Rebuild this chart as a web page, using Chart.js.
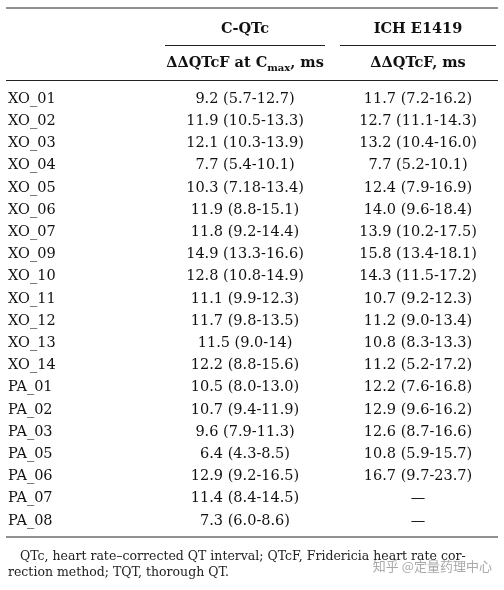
<!DOCTYPE html>
<html>
<head>
<meta charset="utf-8">
<script src="https://cdn.jsdelivr.net/npm/chart.js@4"></script>
<style>
  html, body { margin: 0; padding: 0; background: #fff; }
  #wrap { width: 504px; height: 590px; position: relative; }
</style>
</head>
<body>
<div id="wrap"><canvas id="tabla"></canvas></div>
<script>
const filas = ["XO_01","XO_02","XO_03","XO_04","XO_05","XO_06","XO_07","XO_09","XO_10","XO_11",
  "XO_12","XO_13","XO_14","PA_01","PA_02","PA_03","PA_05","PA_06","PA_07","PA_08"];
const cqtc = ["9.2 (5.7-12.7)","11.9 (10.5-13.3)","12.1 (10.3-13.9)","7.7 (5.4-10.1)","10.3 (7.18-13.4)",
  "11.9 (8.8-15.1)","11.8 (9.2-14.4)","14.9 (13.3-16.6)","12.8 (10.8-14.9)","11.1 (9.9-12.3)",
  "11.7 (9.8-13.5)","11.5 (9.0-14)","12.2 (8.8-15.6)","10.5 (8.0-13.0)","10.7 (9.4-11.9)",
  "9.6 (7.9-11.3)","6.4 (4.3-8.5)","12.9 (9.2-16.5)","11.4 (8.4-14.5)","7.3 (6.0-8.6)"];
const ich = ["11.7 (7.2-16.2)","12.7 (11.1-14.3)","13.2 (10.4-16.0)","7.7 (5.2-10.1)","12.4 (7.9-16.9)",
  "14.0 (9.6-18.4)","13.9 (10.2-17.5)","15.8 (13.4-18.1)","14.3 (11.5-17.2)","10.7 (9.2-12.3)",
  "11.2 (9.0-13.4)","10.8 (8.3-13.3)","11.2 (5.2-17.2)","12.2 (7.6-16.8)","12.9 (9.6-16.2)",
  "12.6 (8.7-16.6)","10.8 (5.9-15.7)","16.7 (9.7-23.7)","—","—"];
const columnas = [filas, cqtc, ich];
const colX = [0, 1, 2];

const fuente = "'DejaVu Serif', 'Liberation Serif', serif";

const textoTabla = {
  id: "textoTabla",
  afterDatasetsDraw(chart) {
    const ctx = chart.ctx;
    const area = chart.chartArea;
    ctx.save();
    ctx.fillStyle = "#111";
    ctx.textBaseline = "middle";
    ctx.font = "14.5px " + fuente;
    chart.data.datasets.forEach((ds, d) => {
      const meta = chart.getDatasetMeta(d);
      meta.data.forEach((pt, i) => {
        ctx.textAlign = d === 0 ? "left" : "center";
        ctx.fillText(ds.textos[i], d === 0 ? 8 : pt.x, pt.y);
      });
    });

    const xs = chart.scales.x;
    const c1 = xs.getPixelForValue(1), c2 = xs.getPixelForValue(2);
    ctx.font = "bold 14.5px " + fuente;
    ctx.textAlign = "center";
    ctx.fillText("C-QTc", c1, 29);
    ctx.fillText("ICH E1419", c2, 29);

    // segundo encabezado con subíndice
    const a = "ΔΔQTcF at C", s = "max", b = ", ms";
    const wa = ctx.measureText(a).width, wb = ctx.measureText(b).width;
    ctx.font = "bold 10px " + fuente;
    const ws = ctx.measureText(s).width;
    let x0 = c1 - (wa + ws + wb) / 2;
    ctx.textAlign = "left";
    ctx.font = "bold 14.5px " + fuente;
    ctx.fillText(a, x0, 63);
    ctx.font = "bold 10px " + fuente;
    ctx.fillText(s, x0 + wa, 68);
    ctx.font = "bold 14.5px " + fuente;
    ctx.fillText(b, x0 + wa + ws, 63);
    ctx.textAlign = "center";
    ctx.fillText("ΔΔQTcF, ms", c2, 63);

    ctx.strokeStyle = "#222";
    const linea = (x1, x2, y, w) => {
      ctx.lineWidth = w;
      ctx.beginPath(); ctx.moveTo(x1, y); ctx.lineTo(x2, y); ctx.stroke();
    };
    linea(6, 498, 8, 1);
    linea(165, 325, 45.5, 1);
    linea(340, 496, 45.5, 1);
    linea(6, 498, 80.5, 1);
    linea(6, 498, area.bottom + 5, 1);

    ctx.fillStyle = "#222";
    ctx.font = "12.5px " + fuente;
    ctx.textAlign = "left";
    ctx.fillText("QTc, heart rate–corrected QT interval; QTcF, Fridericia heart rate cor-", 20, 557);
    ctx.fillText("rection method; TQT, thorough QT.", 8, 573);

    ctx.fillStyle = "rgba(160,160,160,0.9)";
    ctx.font = "13px 'Noto Sans CJK SC', sans-serif";
    ctx.textAlign = "right";
    ctx.fillText("知乎 @定量药理中心", 492, 566);
    ctx.restore();
  }
};

new Chart(document.getElementById("tabla"), {
  type: "scatter",
  data: {
    datasets: columnas.map((textos, d) => ({
      textos,
      data: textos.map((t, i) => ({ x: colX[d], y: i })),
      pointRadius: 0
    }))
  },
  options: {
    responsive: true,
    maintainAspectRatio: false,
    animation: false,
    layout: { padding: { top: 88, bottom: 58, left: 0, right: 0 } },
    plugins: { legend: { display: false }, tooltip: { enabled: false } },
    scales: {
      x: { type: "linear", display: false, min: -0.416, max: 2.497 },
      y: { type: "linear", display: false, min: -0.5, max: 19.5, reverse: true }
    }
  },
  plugins: [textoTabla]
});
</script>
</body>
</html>
